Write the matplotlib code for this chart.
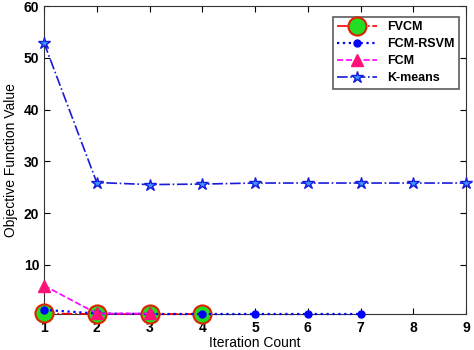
import matplotlib.pyplot as plt
import numpy as np

plt.rcParams['font.family'] = ['Liberation Sans', 'DejaVu Sans']

# iteration counts and objective values per method
x_fvcm = [1, 2, 3, 4]
y_fvcm = [0.6, 0.5, 0.5, 0.5]

x_rsvm = [1, 2, 3, 4, 5, 6, 7]
y_rsvm = [1.3, 0.6, 0.5, 0.5, 0.5, 0.5, 0.5]

x_fcm = [1, 2, 3]
y_fcm = [6.0, 0.6, 0.6]

x_km = [1, 2, 3, 4, 5, 6, 7, 8, 9]
y_km = [52.9, 25.9, 25.5, 25.6, 25.8, 25.8, 25.8, 25.8, 25.8]

fig = plt.figure(figsize=(4.74, 3.5), dpi=100)
ax = fig.add_axes([44/474, 1 - 314/350, 422/474, 308/350])

ax.plot(x_fvcm, y_fvcm, color='red', linestyle='-.', linewidth=1.2,
        marker='o', markersize=13, markerfacecolor='#22dd22',
        markeredgecolor='#dd2200', markeredgewidth=1.5, label='FVCM',
        zorder=3, clip_on=False)
ax.plot(x_rsvm, y_rsvm, color='blue', linestyle=':', linewidth=1.6,
        marker='o', markersize=5, markerfacecolor='blue',
        markeredgecolor='blue', label='FCM-RSVM', zorder=4, clip_on=False)
ax.plot(x_fcm, y_fcm, color='magenta', linestyle='--', linewidth=1.2,
        marker='^', markersize=8, markerfacecolor='#ff1177',
        markeredgecolor='#ff1177', label='FCM', zorder=5, clip_on=False)
ax.plot(x_km, y_km, color='#1a1adc', linestyle='-.', linewidth=1.2,
        marker='*', markersize=9, markerfacecolor='#3399ff',
        markeredgecolor='#1a1adc', label='K-means', zorder=3, clip_on=False)

ax.set_xlim(1, 9)
ax.set_ylim(0.5, 60)
ax.set_xticks(range(1, 10))
ax.set_yticks([10, 20, 30, 40, 50, 60])
ax.tick_params(direction='in', top=True, right=True, length=4, labelsize=10)
ax.tick_params(axis='x', pad=5)
for lab in ax.get_xticklabels() + ax.get_yticklabels():
    lab.set_fontweight('bold')
for s in ax.spines.values():
    s.set_color('#333333')

ax.set_xlabel('Iteration Count', fontsize=10, labelpad=1)
ax.set_ylabel('Objective Function Value', fontsize=10, labelpad=4)

leg = ax.legend(loc='upper right', fontsize=9, frameon=True, fancybox=False,
                edgecolor='#333333', handlelength=3.2, borderpad=0.35,
                labelspacing=0.4, bbox_to_anchor=(0.998, 0.985))
leg.get_frame().set_linewidth(1.2)
for t in leg.get_texts():
    t.set_fontweight('bold')

fig.savefig('out.png', dpi=100)
